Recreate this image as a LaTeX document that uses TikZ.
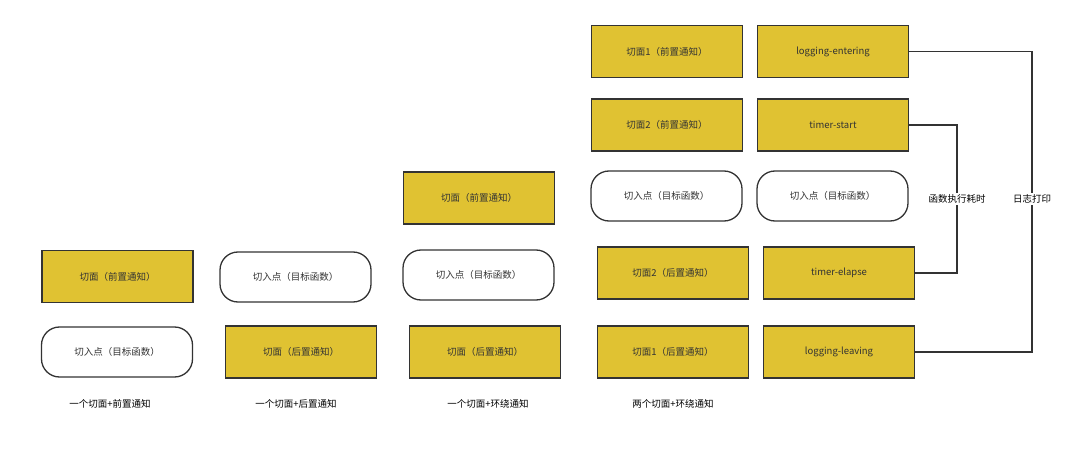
\documentclass[tikz,border=0pt]{standalone}
\usepackage{fontspec}
\setmainfont{Noto Sans CJK SC}
\usetikzlibrary{positioning}
\definecolor{aspectyellow}{HTML}{E0C232}
\definecolor{edgegray}{HTML}{333333}
\tikzset{
  every box/.style={draw=edgegray, line width=1.3pt, minimum width=151pt, minimum height=52pt, font=\fontsize{9.5pt}{11pt}\selectfont, text=edgegray},
  aspect box/.style={every box, fill=aspectyellow},
  pointcut box/.style={every box, fill=white, rounded corners=18pt, minimum height=50pt},
  caption/.style={font=\fontsize{9.5pt}{11pt}\selectfont, text=black},
  link/.style={draw=edgegray, line width=1.1pt}
}
\begin{document}
\begin{tikzpicture}[x=1pt, y=-1pt]
\useasboundingbox (0,0) rectangle (1073,449);

% one aspect, before advice
\node [aspect box] (a1-before) at (117.5,276.5) {切面（前置通知）};
\node [pointcut box] (a1-target) at (117,352) {切入点（目标函数）};
\node [caption] (a1-cap) at (110,404) {一个切面+前置通知};

% one aspect, after advice
\node [pointcut box] (a2-target) at (295.5,277) {切入点（目标函数）};
\node [aspect box] (a2-after) at (301,352) {切面（后置通知）};
\node [caption] (a2-cap) at (296,404) {一个切面+后置通知};

% one aspect, around advice
\node [aspect box] (a3-before) at (479,198) {切面（前置通知）};
\node [pointcut box] (a3-target) at (478.5,275) {切入点（目标函数）};
\node [aspect box] (a3-after) at (485,352) {切面（后置通知）};
\node [caption] (a3-cap) at (488,404) {一个切面+环绕通知};

% two aspects, around advice
\node [aspect box] (a4-before-1) at (667,51.5) {切面1（前置通知）};
\node [aspect box] (log-in) at (833,51.5) {logging-entering};
\node [aspect box] (a4-before-2) at (667,125) {切面2（前置通知）};
\node [aspect box] (timer-in) at (833,125) {timer-start};
\node [pointcut box] (a4-target-1) at (666.5,196) {切入点（目标函数）};
\node [pointcut box] (a4-target-2) at (832.5,196) {切入点（目标函数）};
\node [aspect box] (a4-after-2) at (673,273) {切面2（后置通知）};
\node [aspect box] (timer-out) at (839,273) {timer-elapse};
\node [aspect box] (a4-after-1) at (673,352) {切面1（后置通知）};
\node [aspect box] (log-out) at (839,352) {logging-leaving};
\node [caption] (a4-cap) at (673,404) {两个切面+环绕通知};

\coordinate (timer-turn) at (957,0);
\coordinate (log-turn) at (1032,0);
\draw [link] (timer-in.east) -- (timer-in.east -| timer-turn) -- (timer-out.east -| timer-turn) -- (timer-out.east);
\draw [link] (log-in.east) -- (log-in.east -| log-turn) -- (log-out.east -| log-turn) -- (log-out.east);
\node [caption, fill=white, inner sep=2pt] (timer-label) at (957,199) {函数执行耗时};
\node [caption, fill=white, inner sep=2pt] (log-label) at (1032,199) {日志打印};

\end{tikzpicture}
\end{document}
